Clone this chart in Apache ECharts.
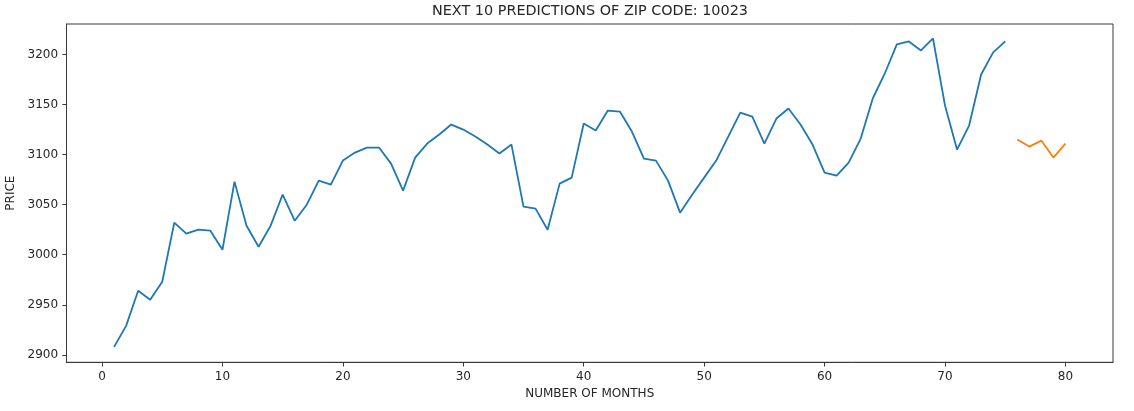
<!DOCTYPE html>
<html>
<head>
<meta charset="utf-8">
<script src="https://cdn.jsdelivr.net/npm/echarts@6/dist/echarts.min.js"></script>
<style>
html,body{margin:0;padding:0;background:#fff;}
#chart{width:1134px;height:411px;}
</style>
</head>
<body>
<div id="chart"></div>
<script>
// Historical months (1..75) and values
const histMonths = [1,2,3,4,5,6,7,8,9,10,11,12,13,14,15,16,17,18,19,20,21,22,23,24,25,26,27,28,29,30,31,32,33,34,35,36,37,38,39,40,41,42,43,44,45,46,47,48,49,50,51,52,53,54,55,56,57,58,59,60,61,62,63,64,65,66,67,68,69,70,71,72,73,74,75];
const histValues = [2908,2929,2964,2955,2973,3032,3021,3025,3024,3005,3073,3029,3008,3029,3060,3034,3050,3074,3070,3094,3102,3107,3107,3091,3064,3097,3111,3120,3130,3125,3118,3110,3101,3110,3048,3046,3025,3071,3077,3131,3124,3144,3143,3123,3096,3094,3074,3042,3060,3077,3094,3118,3142,3138,3111,3136,3146,3130,3110,3082,3079,3092,3116,3156,3181,3210,3213,3204,3216,3149,3105,3129,3180,3202,3213];
// Predicted months (76..80) and values
const predMonths = [76,77,78,79,80];
const predValues = [3115,3108,3114,3097,3111];
// Tick labels
const xTicks = [0,10,20,30,40,50,60,70,80];
const yTicks = [2900,2950,3000,3050,3100,3150,3200];

const titleText = 'NEXT 10 PREDICTIONS OF ZIP CODE: 10023';
const xName = 'NUMBER OF MONTHS';
const yName = 'PRICE';

const zip = (xs, ys) => xs.map((x, i) => [x, ys[i]]);

const FONT = 'DejaVu Sans';
const TXT = '#262626';
const SPINE = '#3a3a3a';

const chart = echarts.init(document.getElementById('chart'), null, {renderer: 'canvas'});
chart.setOption({
  animation: false,
  backgroundColor: '#ffffff',
  grid: {
    left: 66.5, right: 21, top: 24, bottom: 48.7,
    containLabel: false, outerBoundsMode: 'none',
    show: true, borderColor: SPINE, borderWidth: 1, backgroundColor: 'transparent'
  },
  graphic: [{
    type: 'text', x: 590, y: 4,
    style: {text: titleText, font: '14.4px "DejaVu Sans"', fill: TXT, align: 'center', verticalAlign: 'top'}
  }],
  xAxis: {
    type: 'value', min: -2.95, max: 83.95,
    name: xName, nameLocation: 'middle', nameGap: 26,
    nameTextStyle: {fontFamily: FONT, fontSize: 12, color: TXT},
    axisLine: {show: true, onZero: false, lineStyle: {color: SPINE, width: 1}},
    axisTick: {show: true, inside: false, length: 4.2, customValues: xTicks, lineStyle: {color: SPINE}},
    axisLabel: {show: true, customValues: xTicks, margin: 8.4, fontFamily: FONT, fontSize: 12, color: TXT},
    splitLine: {show: false}
  },
  yAxis: {
    type: 'value', min: 2892.6, max: 3230.4,
    name: yName, nameLocation: 'middle', nameGap: 44.5, nameRotate: 90,
    nameTextStyle: {fontFamily: FONT, fontSize: 12, color: TXT},
    axisLine: {show: true, onZero: false, lineStyle: {color: SPINE, width: 1}},
    axisTick: {show: true, inside: false, length: 4.2, customValues: yTicks, lineStyle: {color: SPINE}},
    axisLabel: {show: true, customValues: yTicks, margin: 8.4, fontFamily: FONT, fontSize: 12, color: TXT,
      formatter: v => String(v)},
    splitLine: {show: false}
  },
  series: [
    {type: 'line', data: zip(histMonths, histValues), showSymbol: false, symbol: 'none',
     lineStyle: {color: '#1f77b4', width: 1.8}, itemStyle: {color: '#1f77b4'}},
    {type: 'line', data: zip(predMonths, predValues), showSymbol: false, symbol: 'none',
     lineStyle: {color: '#ff7f0e', width: 1.8}, itemStyle: {color: '#ff7f0e'}}
  ]
});
</script>
</body>
</html>
